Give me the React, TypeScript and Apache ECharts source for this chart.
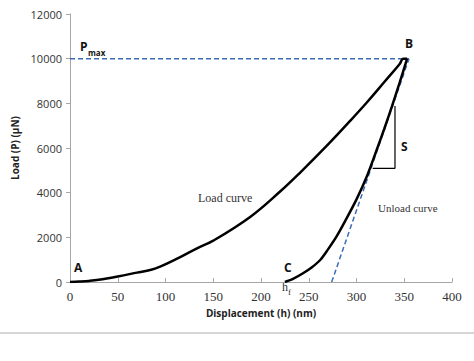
import React, { useEffect, useRef } from "react";
import * as echarts from "echarts";

const loadX = [0, 10, 20, 30, 50, 70, 85, 95, 110, 133, 150, 189, 220, 241, 270, 293, 311, 330, 345, 349, 353];
const loadY = [0, 20, 50, 100, 250, 420, 550, 700, 1000, 1510, 1850, 2925, 4050, 4900, 6150, 7200, 8050, 9000, 9750, 10000, 10000];
const unloadX = [353, 345, 337, 329, 321, 311, 300, 289, 279, 270, 262, 253, 244, 234, 225];
const unloadY = [10000, 8900, 7850, 6850, 5900, 4750, 3700, 2800, 2030, 1450, 985, 650, 390, 150, 0];
const tangentX = [274, 355];
const tangentY = [0, 10000];
const pmaxX = [0, 355];
const pmaxY = [10000, 10000];
const stiffX = [340.3, 340.3, 317];
const stiffY = [7880, 5090, 5090];
const xTicks = [0, 50, 100, 150, 200, 250, 300, 350, 400];
const yTicks = [0, 2000, 4000, 6000, 8000, 10000, 12000];

const zip = (xs: number[], ys: number[]) => xs.map((x, i) => [x, ys[i]]);

export default function App() {
  const ref = useRef<HTMLDivElement>(null);
  useEffect(() => {
    const chart = echarts.init(ref.current!, null, { renderer: "svg" });
    const blue = "#3a6db5";
    chart.setOption({
      animation: false,
      backgroundColor: "#fff",
      grid: { left: 70, right: 22, top: 14, bottom: 79 },
      xAxis: {
        type: "value",
        min: 0,
        max: 400,
        interval: 50,
        name: "Displacement (h) (nm)",
        nameLocation: "middle",
        nameGap: 22,
        nameTextStyle: { fontFamily: "Open Sans", fontWeight: "bold", fontSize: 10, color: "#222" },
        axisLine: { lineStyle: { color: "#a6a6a6", width: 1 } },
        axisTick: { inside: true, length: 4, lineStyle: { color: "#a6a6a6" } },
        axisLabel: {
          fontFamily: "Liberation Serif",
          fontSize: 13,
          color: "#333",
          margin: 8,
          formatter: (v: number) => (xTicks.includes(v) ? String(v) : ""),
        },
        splitLine: { show: false },
      },
      yAxis: {
        type: "value",
        min: 0,
        max: 12000,
        interval: 2000,
        name: "Load (P) (µN)",
        nameLocation: "middle",
        nameGap: 44,
        nameRotate: 90,
        nameTextStyle: { fontFamily: "Open Sans", fontWeight: "bold", fontSize: 10, color: "#222" },
        axisLine: { show: true, lineStyle: { color: "#a6a6a6", width: 1 } },
        axisTick: { show: true, length: 4, lineStyle: { color: "#a6a6a6" } },
        axisLabel: {
          fontFamily: "Open Sans",
          fontSize: 11,
          color: "#333",
          margin: 8,
          formatter: (v: number) => (yTicks.includes(v) ? String(v) : ""),
        },
        splitLine: { show: false },
      },
      series: [
        {
          type: "line",
          data: zip(pmaxX, pmaxY),
          symbol: "none",
          lineStyle: { color: blue, width: 1.5, type: [5, 3] },
        },
        {
          type: "line",
          data: zip(tangentX, tangentY),
          symbol: "none",
          lineStyle: { color: blue, width: 1.5, type: [5, 3] },
        },
        {
          type: "line",
          data: zip(loadX, loadY),
          symbol: "none",
          smooth: 0.4,
          lineStyle: { color: "#000", width: 2.5 },
        },
        {
          type: "line",
          data: zip(unloadX, unloadY),
          symbol: "none",
          smooth: 0.3,
          lineStyle: { color: "#000", width: 2.5 },
        },
        {
          type: "line",
          data: zip(stiffX, stiffY),
          symbol: "none",
          lineStyle: { color: "#000", width: 1.2 },
        },
      ],
      graphic: [
        {
          type: "line",
          shape: { x1: 0, y1: 333, x2: 474, y2: 333 },
          style: { stroke: "#c8c8c8", lineWidth: 1.5 },
        },
        { type: "text", x: 80, y: 40, style: { text: "P", font: "bold 12px 'Open Sans'", fill: "#111" } },
        { type: "text", x: 88, y: 48, style: { text: "max", font: "bold 8px 'Open Sans'", fill: "#111" } },
        { type: "text", x: 405, y: 37, style: { text: "B", font: "bold 12px 'Open Sans'", fill: "#111" } },
        { type: "text", x: 74, y: 261, style: { text: "A", font: "bold 12px 'Open Sans'", fill: "#111" } },
        { type: "text", x: 284, y: 261, style: { text: "C", font: "bold 12px 'Open Sans'", fill: "#111" } },
        { type: "text", x: 282, y: 281, style: { text: "h", font: "12px 'Liberation Serif'", fill: "#333" } },
        { type: "text", x: 288, y: 287, style: { text: "f", font: "9px 'Liberation Serif'", fill: "#333" } },
        { type: "text", x: 401, y: 140, style: { text: "S", font: "bold 12px 'Open Sans'", fill: "#111" } },
        { type: "text", x: 198, y: 192, style: { text: "Load curve", font: "12px 'Liberation Serif'", fill: "#333" } },
        { type: "text", x: 378, y: 202, style: { text: "Unload curve", font: "11px 'Liberation Serif'", fill: "#333" } },
      ],
    });
    return () => chart.dispose();
  }, []);
  return <div ref={ref} style={{ width: 474, height: 361, position: "absolute", left: 0, top: 0 }} />;
}
